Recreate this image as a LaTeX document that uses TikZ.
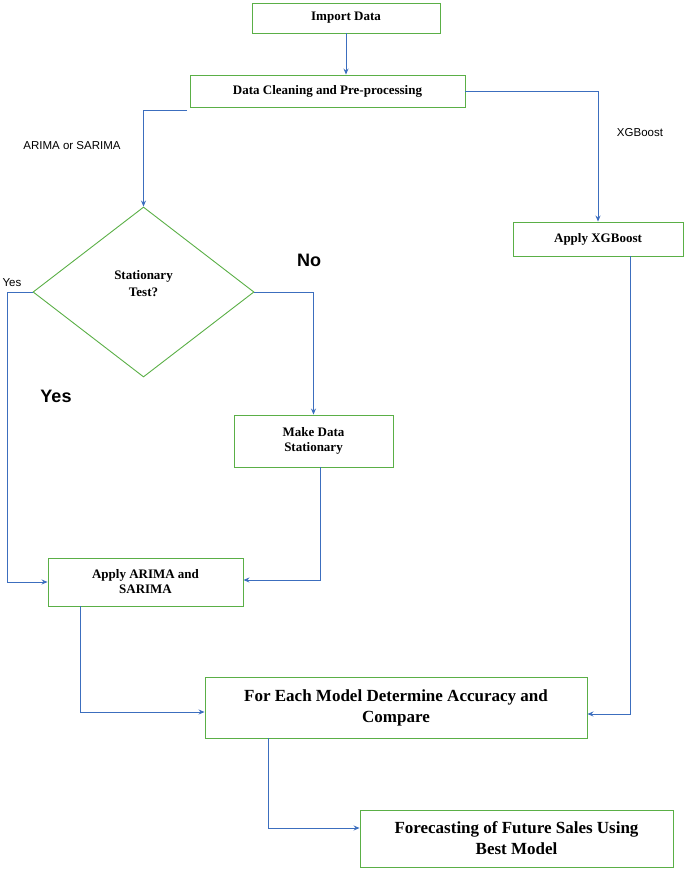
\documentclass[tikz,border=0pt]{standalone}
\usepackage{fontspec}
\setmainfont{Liberation Serif}
\newfontfamily\sans{Liberation Sans}
\usetikzlibrary{shapes.geometric,arrows.meta}
\definecolor{bgreen}{RGB}{90,175,70}
\definecolor{ablue}{RGB}{60,110,190}
\begin{document}
\begin{tikzpicture}[x=1pt,y=-1pt,
 box/.style={draw=bgreen,line width=0.9pt,fill=white,font=\bfseries\fontsize{13}{15}\selectfont,align=center,inner sep=0},
 arr/.style={draw=ablue,line width=0.9pt,-{Stealth[length=6pt,width=5pt]}},
 lab/.style={font=\sans\fontsize{11.5}{13}\selectfont}]
\useasboundingbox (0,0) rectangle (685,880);
\node[box,minimum width=188,minimum height=30] (imp) at (346,18) {Import Data};
\node[box,minimum width=275,minimum height=32] (dc) at (327.5,91) {Data Cleaning and Pre-processing};
\node[box,minimum width=170,minimum height=34] (xg) at (598,239) {Apply XGBoost};
\node[draw=bgreen,line width=0.9pt,diamond,minimum width=221,minimum height=170,inner sep=0] (st) at (143.5,292) {};
\node[font=\bfseries\fontsize{13}{17}\selectfont,align=center] (stt) at (143.5,284) {Stationary\\Test?};
\node[box,minimum width=159,minimum height=52] (mk) at (313.5,441) {Make Data\\Stationary};
\node[box,minimum width=195,minimum height=48] (ar) at (145.5,582) {Apply ARIMA and\\SARIMA};
\node[box,minimum width=382,minimum height=61,font=\bfseries\fontsize{17}{21}\selectfont] (fe) at (396,707.5) {For Each Model Determine Accuracy and\\Compare};
\node[box,minimum width=313,minimum height=57,font=\bfseries\fontsize{17}{21}\selectfont] (fc) at (516.5,838.5) {Forecasting of Future Sales Using\\Best Model};
\node[lab] (l1) at (72,146) {ARIMA or SARIMA};
\node[lab] (l2) at (640,133) {XGBoost};
\node[font=\sans\bfseries\fontsize{18}{21}\selectfont] (no) at (309,260) {No};
\node[lab] (y1) at (12,283) {Yes};
\node[font=\sans\bfseries\fontsize{18}{21}\selectfont] (y2) at (56,396) {Yes};
\coordinate (c1) at (187,110);
\draw[arr] (imp.south) -- (imp.south |- dc.north);
\draw[arr] (c1) -- (c1 -| st.north) -- (st.north);
\draw[arr] (dc.east) -- (dc.east -| xg.north) -- (xg.north);
\draw[arr] (st.east) -- (st.east -| mk.north) -- (mk.north);
\draw[arr] (st.west) -- ++(-25,0) |- (ar.west);
\draw[arr] (mk.south -| 320,0) -- (320,580) -- (ar.east |- 0,580);
\draw[arr] (ar.south -| 80,0) -- (80,712) -- (fe.west |- 0,712);
\draw[arr] (xg.south -| 630,0) -- (630,714) -- (fe.east |- 0,714);
\draw[arr] (fe.south -| 268,0) -- (268,828) -- (fc.west |- 0,828);
\end{tikzpicture}
\end{document}
